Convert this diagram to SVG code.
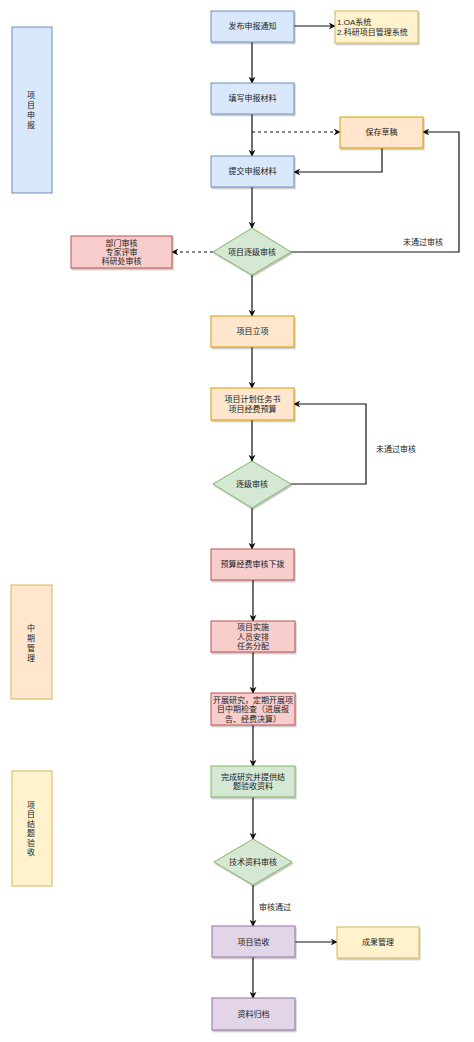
<svg xmlns="http://www.w3.org/2000/svg" width="474" height="1042" viewBox="0 0 474 1042">
<style>
text{font-family:"Liberation Sans","Noto Sans CJK SC",sans-serif;font-size:8px;fill:#222;text-anchor:middle;dominant-baseline:central}
.blue{fill:#dae8fc;stroke:#6c8ebf;stroke-width:1}
.yel{fill:#fff2cc;stroke:#d6b656;stroke-width:1}
.org{fill:#ffe6cc;stroke:#d79b00;stroke-width:1}
.red{fill:#f8cecc;stroke:#b85450;stroke-width:1}
.grn{fill:#d5e8d4;stroke:#82b366;stroke-width:1}
.pur{fill:#e1d5e7;stroke:#9673a6;stroke-width:1}
.lane-o{fill:#ffe6cc;stroke:#d6b656;stroke-width:1}
.sh{filter:url(#shadow)}
.ln{fill:none;stroke:#111;stroke-width:1.2}
.dash{stroke-dasharray:3 3}
</style>
<defs>
<marker id="arr" viewBox="0 0 10 10" refX="9" refY="5" markerWidth="7" markerHeight="7" markerUnits="userSpaceOnUse" orient="auto">
<path d="M0,0 L10,5 L0,10 L3,5 Z" fill="#111"/>
</marker>
<filter id="shadow" x="-10%" y="-10%" width="130%" height="140%">
<feDropShadow dx="1" dy="1.5" stdDeviation="0.6" flood-color="#000" flood-opacity="0.25"/>
</filter>
</defs>
<rect x="0" y="0" width="474" height="1042" fill="#fff"/>

<g id="lane1"><rect class="blue" x="12" y="27" width="40" height="166"/>
<text x="31" y="95">项</text><text x="31" y="105">目</text><text x="31" y="115">申</text><text x="31" y="125">报</text></g>
<g id="lane2"><rect class="lane-o" x="11" y="585" width="41" height="114"/>
<text x="31" y="628">中</text><text x="31" y="638">期</text><text x="31" y="648">管</text><text x="31" y="658">理</text></g>
<g id="lane3"><rect class="yel" x="12" y="771" width="40" height="115"/>
<text x="31" y="805">项</text><text x="31" y="814.5">目</text><text x="31" y="824">结</text><text x="31" y="833.5">题</text><text x="31" y="843">验</text><text x="31" y="852.5">收</text></g>

<g id="connectors">
<path class="ln" d="M294,26 H335" marker-end="url(#arr)"/>
<path class="ln" d="M252,42 V83" marker-end="url(#arr)"/>
<path class="ln dash" d="M252,132 H340" marker-end="url(#arr)"/>
<path class="ln" d="M252,114 V156" marker-end="url(#arr)"/>
<path class="ln" d="M382,148 V172 H294" marker-end="url(#arr)"/>
<path class="ln" d="M252,187 V228" marker-end="url(#arr)"/>
<path class="ln" d="M291,252 H459 V132 H423" marker-end="url(#arr)"/>
<path class="ln dash" d="M213,252 H172" marker-end="url(#arr)"/>
<path class="ln" d="M252,275 V316" marker-end="url(#arr)"/>
<path class="ln" d="M252,347 V388" marker-end="url(#arr)"/>
<path class="ln" d="M252,420 V461" marker-end="url(#arr)"/>
<path class="ln" d="M291,484 H366 V404 H294" marker-end="url(#arr)"/>
<path class="ln" d="M252,508 V549" marker-end="url(#arr)"/>
<path class="ln" d="M253,580 V621" marker-end="url(#arr)"/>
<path class="ln" d="M253,652 V693" marker-end="url(#arr)"/>
<path class="ln" d="M253,725 V766" marker-end="url(#arr)"/>
<path class="ln" d="M253,797 V839" marker-end="url(#arr)"/>
<path class="ln" d="M253,885 V926" marker-end="url(#arr)"/>
<path class="ln" d="M295,942 H337" marker-end="url(#arr)"/>
<path class="ln" d="M253,957 V998" marker-end="url(#arr)"/>
<text x="423" y="242">未通过审核</text>
<text x="396" y="449">未通过审核</text>
<text x="275" y="907">审核通过</text>
</g>

<g id="n1"><rect class="blue sh" x="211" y="11" width="83" height="31"/><text x="252.5" y="26.5">发布申报通知</text></g>
<g id="n2"><rect class="yel sh" x="335" y="11" width="83" height="32"/>
<text x="337" y="22.5" style="text-anchor:start">1.OA系统</text><text x="337" y="32" style="text-anchor:start">2.科研项目管理系统</text></g>
<g id="n3"><rect class="blue sh" x="211" y="83" width="83" height="31"/><text x="252.5" y="98.5">填写申报材料</text></g>
<g id="n4"><rect class="org sh" x="340" y="117" width="83" height="31"/><text x="381.5" y="132.5">保存草稿</text></g>
<g id="n5"><rect class="blue sh" x="211" y="156" width="83" height="31"/><text x="252.5" y="171.5">提交申报材料</text></g>
<g id="n6"><path class="grn sh" d="M252,228 L291,252 L252,275 L213,252 Z"/><text x="252" y="252">项目逐级审核</text></g>
<g id="n7"><rect class="red sh" x="71" y="236" width="101" height="32"/>
<text x="121.5" y="243">部门审核</text><text x="121.5" y="252">专家评审</text><text x="121.5" y="261">科研处审核</text></g>
<g id="n8"><rect class="org sh" x="211" y="316" width="83" height="31"/><text x="252.5" y="331.5">项目立项</text></g>
<g id="n9"><rect class="org sh" x="211" y="388" width="83" height="32"/>
<text x="252.5" y="399.5">项目计划任务书</text><text x="252.5" y="409">项目经费预算</text></g>
<g id="n10"><path class="grn sh" d="M252,461 L291,484 L252,508 L213,484 Z"/><text x="252" y="484.5">逐级审核</text></g>
<g id="n11"><rect class="red sh" x="211" y="549" width="83" height="31"/><text x="252.5" y="564.5">预算经费审核下拨</text></g>
<g id="n12"><rect class="red sh" x="211" y="621" width="84" height="31"/>
<text x="253" y="627.5">项目实施</text><text x="253" y="637">人员安排</text><text x="253" y="646.5">任务分配</text></g>
<g id="n13"><rect class="red sh" x="211" y="693" width="84" height="32"/>
<text x="253" y="700">开展研究，定期开展项</text><text x="253" y="709.5">目中期检查（进展报</text><text x="253" y="719">告、经费决算）</text></g>
<g id="n14"><rect class="grn sh" x="211" y="766" width="84" height="31"/>
<text x="253" y="777">完成研究并提供结</text><text x="253" y="786.5">题验收资料</text></g>
<g id="n15"><path class="grn sh" d="M253,839 L292,862 L253,885 L214,862 Z"/><text x="253" y="862">技术资料审核</text></g>
<g id="n16"><rect class="pur sh" x="212" y="926" width="83" height="31"/><text x="253.5" y="942">项目验收</text></g>
<g id="n17"><rect class="yel sh" x="337" y="927" width="82" height="31"/><text x="378" y="942.5">成果管理</text></g>
<g id="n18"><rect class="pur sh" x="212" y="998" width="83" height="32"/><text x="253.5" y="1014">资料归档</text></g>
</svg>
